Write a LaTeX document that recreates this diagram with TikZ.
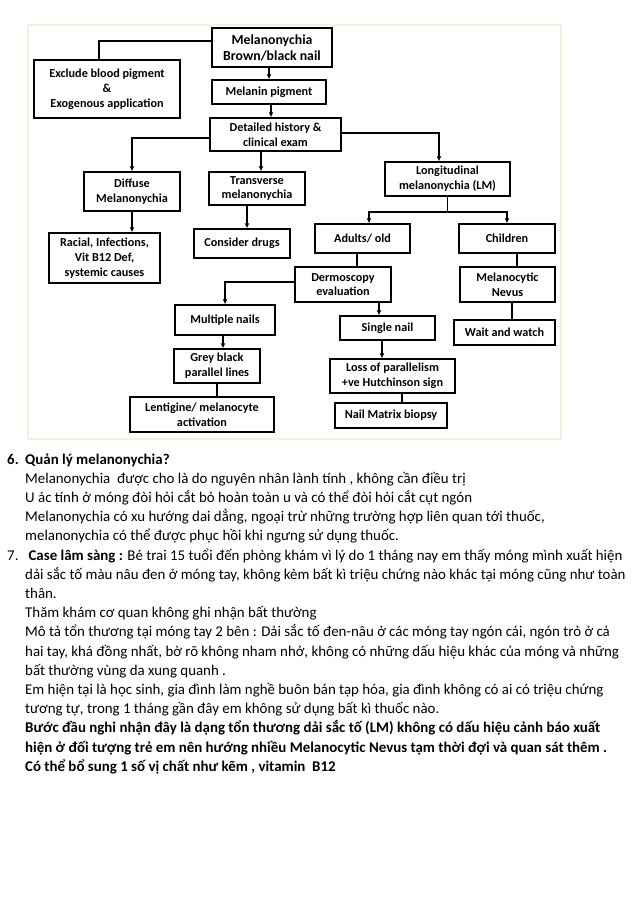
\documentclass[tikz,border=0pt]{standalone}
\usepackage{fontspec}
\setmainfont{Carlito}
\usetikzlibrary{arrows.meta,calc}
\begin{document}
\begin{tikzpicture}[x=1pt,y=-1pt,
  box/.style={draw=black,line width=1.5pt,fill=white,align=center,inner sep=0pt,
    font=\bfseries\fontsize{12.2}{14.8}\selectfont},
  conn/.style={line width=1.8pt},
  arr/.style={line width=1.8pt,-{Latex[length=5pt,width=5pt]}},
  txt/.style={anchor=base west,inner sep=0pt,font=\fontsize{14.9}{17}\selectfont},
  btxt/.style={txt,font=\bfseries\fontsize{14.9}{17}\selectfont}]
\useasboundingbox[fill=white] (0,0) rectangle (638,902);
\draw[draw={rgb,255:red,250;green,238;blue,220},line width=1.5pt] (28,25) rectangle (561,439);
% boxes
\node[box,minimum width=120pt,minimum height=39pt,font=\bfseries\fontsize{13.8}{16}\selectfont] (title) at (272,47.5) {Melanonychia\\Brown/black nail};
\node[box,minimum width=146pt,minimum height=58pt] (exclude) at (107,89) {Exclude blood pigment\\\&\\Exogenous application};
\node[box,minimum width=114pt,minimum height=24pt] (melanin) at (269,92) {Melanin pigment};
\node[box,minimum width=131pt,minimum height=33pt] (detailed) at (275.5,134.5) {Detailed history \&\\clinical exam};
\node[box,minimum width=96pt,minimum height=39pt] (diffuse) at (132,191.5) {Diffuse\\Melanonychia};
\node[box,minimum width=96pt,minimum height=33pt] (transverse) at (257,188.5) {Transverse\\melanonychia};
\node[box,minimum width=125pt,minimum height=34pt] (longitudinal) at (447.5,179) {Longitudinal\\melanonychia (LM)};
\node[box,minimum width=111pt,minimum height=50pt] (racial) at (104.5,258) {Racial, Infections,\\Vit B12 Def,\\systemic causes};
\node[box,minimum width=96pt,minimum height=29pt] (consider) at (242,243.5) {Consider drugs};
\node[box,minimum width=95pt,minimum height=29pt] (adults) at (362.5,238.5) {Adults/ old};
\node[box,minimum width=96pt,minimum height=29pt] (children) at (507,238.5) {Children};
\node[box,minimum width=96pt,minimum height=35pt] (dermoscopy) at (343,284.5) {Dermoscopy\\evaluation};
\node[box,minimum width=95pt,minimum height=35pt] (melanocytic) at (507.5,284.5) {Melanocytic\\Nevus};
\node[box,minimum width=101pt,minimum height=25pt] (wait) at (504.5,332.5) {Wait and watch};
\node[box,minimum width=95pt,minimum height=24pt] (single) at (387.5,328) {Single nail};
\node[box,minimum width=100pt,minimum height=30pt] (multiple) at (225,320) {Multiple nails};
\node[box,minimum width=86pt,minimum height=34pt] (grey) at (217,366) {Grey black\\parallel lines};
\node[box,minimum width=144pt,minimum height=35pt] (lentigine) at (202,414.5) {Lentigine/ melanocyte\\activation};
\node[box,minimum width=125pt,minimum height=34pt] (loss) at (392.5,376) {Loss of parallelism\\+ve Hutchinson sign};
\node[box,minimum width=112pt,minimum height=25pt] (nailmatrix) at (391,415.5) {Nail Matrix biopsy};
% connectors
\draw[conn] ([yshift=6.5pt]title.west) -| ([xshift=-8pt]exclude.north);
\draw[arr] (title.south -| melanin.north) -- (melanin.north);
\draw[arr] ([xshift=2pt]melanin.south) -- ([xshift=2pt]melanin.south |- detailed.north);
\draw[arr] ([yshift=-3.5pt]detailed.west) -| (diffuse.north);
\draw[arr] ([xshift=4pt]transverse.north |- detailed.south) -- ([xshift=4pt]transverse.north);
\draw[arr] ([yshift=1.5pt]detailed.east) -| ([xshift=-8.5pt]longitudinal.north);
\draw[arr] (diffuse.south) -- (diffuse.south |- racial.north);
\draw[arr] ([xshift=5pt]consider.north |- transverse.south) -- ([xshift=5pt]consider.north);
\coordinate (lmsplit) at ($(longitudinal.south)+(0,15)$);
\draw[conn] (longitudinal.south) -- (lmsplit);
\draw[arr] (lmsplit) -| ([xshift=6.5pt]adults.north);
\draw[arr] (lmsplit) -| (children.north);
\draw[conn] ([xshift=-5.5pt]adults.south) -- ([xshift=-5.5pt]adults.south |- dermoscopy.north);
\draw[arr] ([yshift=2.5pt]dermoscopy.west) -| (multiple.north);
\draw[arr] ([xshift=36pt]dermoscopy.south) -- ([xshift=36pt]dermoscopy.south |- single.north);
\draw[conn] ([xshift=10pt]children.south) -- ([xshift=10pt]children.south |- melanocytic.north);
\draw[conn] ([xshift=4.5pt]melanocytic.south) -- ([xshift=4.5pt]melanocytic.south |- wait.north);
\draw[arr] ([xshift=-2pt]multiple.south) -- ([xshift=-2pt]multiple.south |- grey.north);
\draw[conn] (grey.south) -- (grey.south |- lentigine.north);
\draw[arr] ([xshift=-5.5pt]single.south) -- ([xshift=-5.5pt]single.south |- loss.north);
\draw[conn] ([xshift=9.5pt]loss.south) -- ([xshift=9.5pt]loss.south |- nailmatrix.north);
% text below
\node[btxt] (n6) at (7,464) {6.};
\node[btxt] (l1) at (25,464) {Quản lý melanonychia?};
\node[txt] (l2) at (25,483.2) {Melanonychia\ \ được cho là do nguyên nhân lành tính , không cần điều trị};
\node[txt] (l3) at (25,502.4) {U ác tính ở móng đòi hỏi cắt bỏ hoàn toàn u và có thể đòi hỏi cắt cụt ngón};
\node[txt] (l4) at (25,521.6) {Melanonychia có xu hướng dai dẳng, ngoại trừ những trường hợp liên quan tới thuốc,};
\node[txt] (l5) at (25,540.8) {melanonychia có thể được phục hồi khi ngưng sử dụng thuốc.};
\node[txt] (n7) at (7,560) {7.};
\node[txt] (l6) at (25,560) {\ \textbf{Case lâm sàng :} Bé trai 15 tuổi đến phòng khám vì lý do 1 tháng nay em thấy móng mình xuất hiện};
\node[txt] (l7) at (25,579.2) {dải sắc tố màu nâu đen ở móng tay, không kèm bất kì triệu chứng nào khác tại móng cũng như toàn};
\node[txt] (l8) at (25,598.4) {thân.};
\node[txt] (l9) at (25,617.6) {Thăm khám cơ quan không ghi nhận bất thường};
\node[txt] (l10) at (25,636.8) {Mô tả tổn thương tại móng tay 2 bên : Dải sắc tố đen-nâu ở các móng tay ngón cái, ngón trỏ ở cả};
\node[txt] (l11) at (25,656) {hai tay, khá đồng nhất, bờ rõ không nham nhở, không có những dấu hiệu khác của móng và những};
\node[txt] (l12) at (25,675.2) {bất thường vùng da xung quanh .};
\node[txt] (l13) at (25,694.4) {Em hiện tại là học sinh, gia đình làm nghề buôn bán tạp hóa, gia đình không có ai có triệu chứng};
\node[txt] (l14) at (25,713.6) {tương tự, trong 1 tháng gần đây em không sử dụng bất kì thuốc nào.};
\node[btxt] (l15) at (25,732.8) {Bước đầu nghi nhận đây là dạng tổn thương dải sắc tố (LM) không có dấu hiệu cảnh báo xuất};
\node[btxt] (l16) at (25,752) {hiện ở đối tượng trẻ em nên hướng nhiều Melanocytic Nevus tạm thời đợi và quan sát thêm .};
\node[btxt] (l17) at (25,771.2) {Có thể bổ sung 1 số vị chất như kẽm , vitamin\ \ B12};
\end{tikzpicture}
\end{document}
